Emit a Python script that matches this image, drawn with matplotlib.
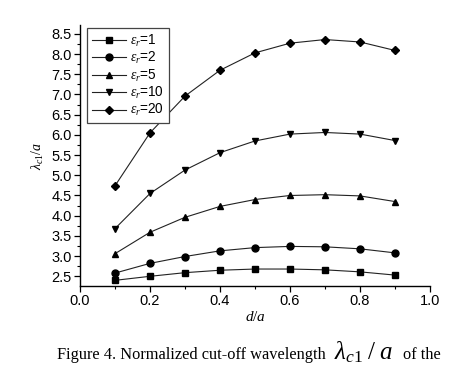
import matplotlib
matplotlib.use("Agg")
import matplotlib.pyplot as plt
from matplotlib.ticker import MultipleLocator

plt.rcParams['font.family'] = ['Liberation Sans', 'DejaVu Sans']
plt.rcParams['mathtext.fontset'] = 'custom'
plt.rcParams['mathtext.it'] = 'Liberation Serif:italic'
plt.rcParams['mathtext.rm'] = 'Liberation Serif'

d_over_a = [0.1, 0.2, 0.3, 0.4, 0.5, 0.6, 0.7, 0.8, 0.9]
eps1 = [2.40, 2.50, 2.59, 2.65, 2.68, 2.68, 2.66, 2.61, 2.53]
eps2 = [2.58, 2.82, 2.99, 3.13, 3.21, 3.24, 3.23, 3.18, 3.08]
eps5 = [3.06, 3.59, 3.96, 4.23, 4.40, 4.50, 4.52, 4.49, 4.35]
eps10 = [3.68, 4.55, 5.13, 5.56, 5.85, 6.02, 6.06, 6.02, 5.86]
eps20 = [4.74, 6.05, 6.96, 7.60, 8.03, 8.27, 8.36, 8.30, 8.09]
labels = [r'$\varepsilon_r$=1', r'$\varepsilon_r$=2', r'$\varepsilon_r$=5',
          r'$\varepsilon_r$=10', r'$\varepsilon_r$=20']
markers = ['s', 'o', '^', 'v', 'D']
series = [eps1, eps2, eps5, eps10, eps20]
xticks = [0.0, 0.2, 0.4, 0.6, 0.8, 1.0]
yticks = [2.5, 3.0, 3.5, 4.0, 4.5, 5.0, 5.5, 6.0, 6.5, 7.0, 7.5, 8.0, 8.5]

W, H = 474, 375
fig = plt.figure(figsize=(W / 100, H / 100), dpi=100)
ax = fig.add_axes([80/W, 1 - 286/H, 350/W, 261/H])

for ys, m, lab in zip(series, markers, labels):
    ms = 4.5 if m == 'D' else 5
    ax.plot(d_over_a, ys, color='#222222', lw=0.8, marker=m, markersize=ms,
            markerfacecolor='black', markeredgecolor='black', label=lab)

ax.set_xlim(0.0, 1.0)
ax.set_ylim(2.26, 8.72)
ax.set_xticks(xticks)
ax.set_xticklabels([f'{t:.1f}' for t in xticks])
ax.set_yticks(yticks)
ax.set_yticklabels([f'{t:.1f}' for t in yticks])
ax.xaxis.set_minor_locator(MultipleLocator(0.1))
ax.yaxis.set_minor_locator(MultipleLocator(0.25))
ax.spines['top'].set_visible(False)
ax.spines['right'].set_visible(False)
for s in ['left', 'bottom']:
    ax.spines[s].set_linewidth(1.0)
ax.tick_params(which='major', direction='out', length=4, width=0.9, labelsize=10.5, pad=2)
ax.tick_params(which='minor', direction='out', length=2.5, width=0.8)

ax.set_xlabel(r'$d/a$', fontsize=11, labelpad=1)
ax.set_ylabel(r'$\lambda_{c1}/a$', fontsize=10, labelpad=4)

leg = ax.legend(loc='upper left', bbox_to_anchor=(0.012, 1.0), fontsize=9.8,
                handlelength=2.5, handletextpad=0.3, labelspacing=0.1,
                borderpad=0.35, fancybox=False, framealpha=1, edgecolor='#444444',
                borderaxespad=0.2)
leg.get_frame().set_linewidth(0.9)

yb = 1 - 359 / H
fig.text(57 / W, yb, 'Figure 4. Normalized cut-off wavelength', ha='left', va='baseline',
         fontsize=11.8, family='Liberation Serif')
fig.text(334 / W, yb, r'$\lambda_{c1}\;/\;a$', ha='left', va='baseline', fontsize=18)
fig.text(403 / W, yb, 'of the', ha='left', va='baseline',
         fontsize=11.8, family='Liberation Serif')

fig.savefig('out.png', dpi=100)
